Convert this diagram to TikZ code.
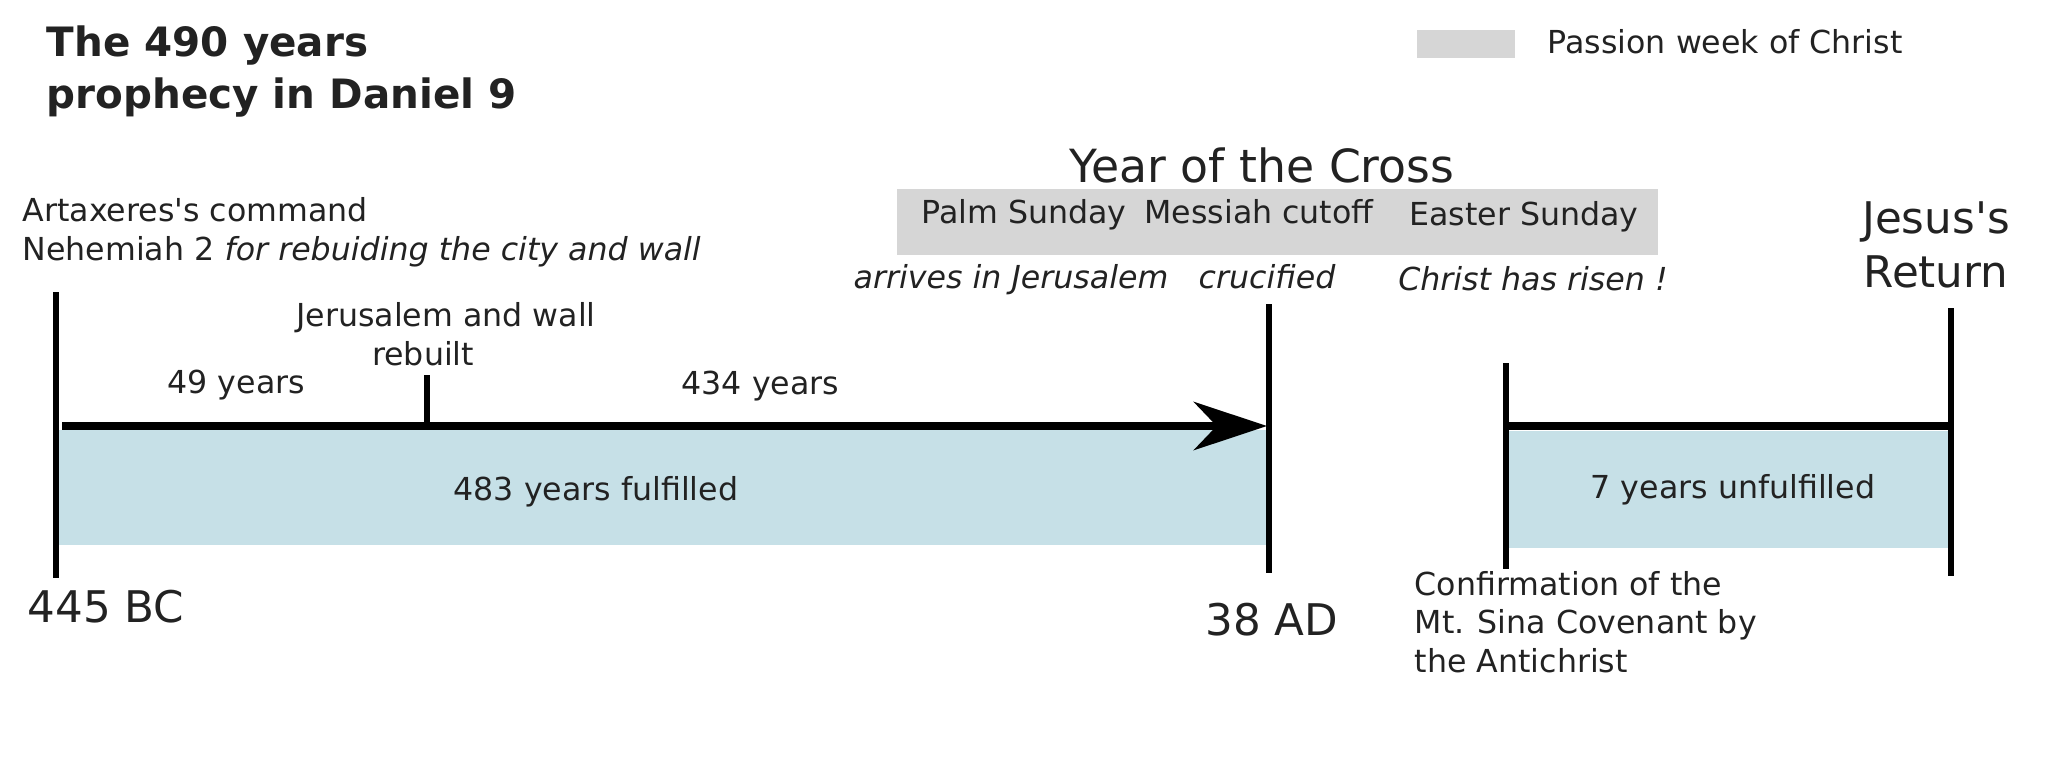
\documentclass[tikz,border=0pt]{standalone}
\usepackage{fontspec}
\setmainfont{DejaVu Sans}
\usetikzlibrary{arrows.meta}
\definecolor{ink}{HTML}{222222}
\definecolor{fulfil}{HTML}{C6E0E7}
\definecolor{passion}{HTML}{D6D6D6}
\begin{document}
\begin{tikzpicture}
[x=0.01cm,y=-0.01cm,
 small/.style={inner sep=0,text=ink,font=\fontsize{9}{10.9}\selectfont},
 big/.style={inner sep=0,text=ink,font=\fontsize{12.4}{15.2}\selectfont},
 bar/.style={line width=1.7pt},
 span/.style={line width=2.3pt}]
\useasboundingbox (0,0) rectangle (2048,763);

% periods and passion week
\fill[fulfil] (58,430) rectangle (1268,545);
\fill[fulfil] (1504,431) rectangle (1949,548);
\fill[passion] (897,189) rectangle (1658,255);
\fill[passion] (1417,30) rectangle (1515,58);

\coordinate (A1) at (56,292);   \coordinate (A2) at (56,578);
\coordinate (C1) at (1269,304); \coordinate (C2) at (1269,573);
\coordinate (S1) at (1506,363); \coordinate (S2) at (1506,569);
\coordinate (J1) at (1951,308); \coordinate (J2) at (1951,576);
\coordinate (W1) at (427,375);  \coordinate (W2) at (427,426);
\coordinate (L0) at (62,426);   \coordinate (L1) at (1267,426);
\coordinate (R0) at (1506,426); \coordinate (R1) at (1951,426);

\draw[span,-{Stealth[length=20.8pt,width=13.7pt,inset=6.5pt]}] (L0) -- (L1);
\draw[span] (R0) -- (R1);
\draw[bar] (A1) -- (A2);
\draw[bar] (C1) -- (C2);
\draw[bar] (S1) -- (S2);
\draw[bar] (J1) -- (J2);
\draw[bar] (W1) -- (W2);

% multi-line nodes sit on their last baseline
\node[inner sep=0,text=ink,anchor=base west,align=left,
  font=\fontsize{11.5}{14.7}\selectfont\bfseries] (title) at (46,108)
  {The 490 years\\prophecy in Daniel 9};
\node[small,anchor=base west] (leg) at (1547,53) {Passion week of Christ};

\node[small,anchor=base west,align=left] (cmd) at (22,260)
  {Artaxeres\textquotesingle s command\\Nehemiah 2 \textit{for rebuiding the city and wall}};
\node[small,anchor=base,align=center] (wall) at (446,365)
  {Jerusalem and wall\\rebuilt\hspace*{13pt}};
\node[small,anchor=base west] (y49) at (167,393) {49 years};
\node[small,anchor=base west] (y434) at (681,394) {434 years};
\node[small,anchor=base] (y483) at (596,500) {483 years fulfilled};
\node[small,anchor=base] (y7) at (1733,498) {7 years unfulfilled};

\node[inner sep=0,text=ink,anchor=base,font=\fontsize{13}{15.6}\selectfont] (cross) at (1262,182) {Year of the Cross};
\node[small,anchor=base] (palm) at (1024,223) {Palm Sunday};
\node[small,anchor=base] (cut) at (1259,223) {Messiah cutoff};
\node[small,anchor=base] (easter) at (1524,225) {Easter Sunday};
\node[small,anchor=base,font=\fontsize{9}{10.9}\selectfont\itshape] (jer) at (1011,288) {arrives in Jerusalem};
\node[small,anchor=base,font=\fontsize{9}{10.9}\selectfont\itshape] (cru) at (1267,288) {crucified};
\node[small,anchor=base,font=\fontsize{9}{10.9}\selectfont\itshape] (risen) at (1533,290) {Christ has risen !};

\node[big,anchor=base,align=center] (ret) at (1936,287) {Jesus\textquotesingle s\\Return};
\node[big,anchor=base west] (bc) at (27,622) {445 BC};
\node[big,anchor=base] (ad) at (1272,635) {38 AD};
\node[small,anchor=base west,align=left] (conf) at (1414,672)
  {Confirmation of the\\Mt. Sina Covenant by\\the Antichrist};
\end{tikzpicture}
\end{document}
